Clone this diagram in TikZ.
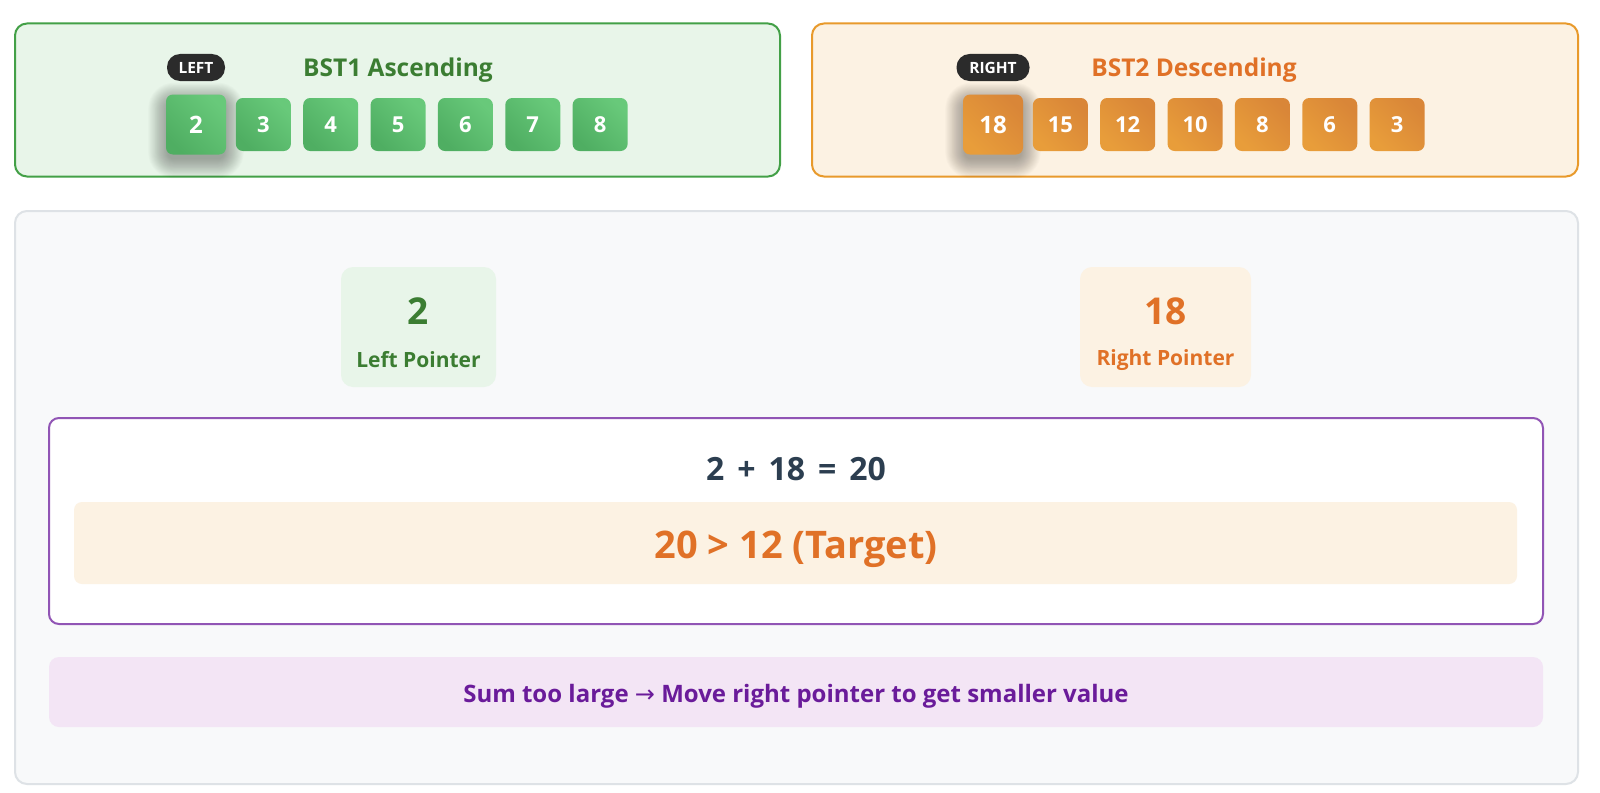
\documentclass[tikz,border=0pt]{standalone}
\usepackage{fontspec}
\setmainfont{Open Sans}
\newfontfamily\symfont{DejaVu Sans}
\definecolor{gfill}{HTML}{E8F5E9}
\definecolor{gborder}{HTML}{43A047}
\definecolor{gtext}{HTML}{3B7D32}
\definecolor{gcellA}{HTML}{4FAE62}
\definecolor{gcellB}{HTML}{68C97A}
\definecolor{ofill}{HTML}{FCF2E3}
\definecolor{oborder}{HTML}{E89A2C}
\definecolor{otext}{HTML}{E07127}
\definecolor{ocellA}{HTML}{E89D3A}
\definecolor{ocellB}{HTML}{D98638}
\definecolor{panelfill}{HTML}{F8F9FA}
\definecolor{panelborder}{HTML}{DEE2E6}
\definecolor{pborder}{HTML}{9155B5}
\definecolor{pfill}{HTML}{F3E5F5}
\definecolor{ptext}{HTML}{6A1B9A}
\definecolor{dark}{HTML}{2C3E50}
\definecolor{badge}{HTML}{2B2B2B}
\tikzset{
  box/.style={rectangle, rounded corners=12pt, line width=2pt, inner sep=0pt},
  gcell/.style={rectangle, rounded corners=7pt, minimum width=55pt, minimum height=53pt, inner sep=0pt,
    bottom color=gcellA, top color=gcellB, shading angle=-45, text=white, font=\bfseries\fontsize{22}{24}\selectfont},
  ocell/.style={rectangle, rounded corners=7pt, minimum width=55pt, minimum height=53pt, inner sep=0pt,
    bottom color=ocellA, top color=ocellB, shading angle=-45, text=white, font=\bfseries\fontsize{22}{24}\selectfont},
  active/.style={minimum width=60pt, minimum height=60pt, font=\bfseries\fontsize{24}{26}\selectfont},
  badgebox/.style={rectangle, rounded corners=13pt, fill=badge, text=white, minimum height=27pt, inner sep=0pt,
    font=\bfseries\fontsize{15.5}{17}\selectfont},
  title/.style={font=\bfseries\fontsize{24.5}{28}\selectfont, inner sep=0pt},
}
\newcommand{\softshadow}[2]{% center x, center y
  \foreach \k in {1,...,22} {
    \fill[black, opacity=0.014, rounded corners={6pt+\k*0.9pt}]
      ({#1-28-\k*0.9},{#2-28+6-\k*0.9}) rectangle ({#1+28+\k*0.9},{#2+28+6+\k*0.9});
  }
}
\newcommand{\wsp}{\hspace{13pt}}
\begin{document}
\begin{tikzpicture}[x=1pt, y=-1pt]
\useasboundingbox[fill=white] (0,0) rectangle (1600,792);
% top boxes
\node[box, draw=gborder, fill=gfill, minimum width=765pt, minimum height=153pt] (bst1) at (397.5,100) {};
\node[box, draw=oborder, fill=ofill, minimum width=766pt, minimum height=153pt] (bst2) at (1195,100) {};
% badges and titles
\node[badgebox, minimum width=58pt] (leftbadge) at (196,67.5) {LEFT};
\node[title, text=gtext] (t1) at (398,70) {BST1 Ascending};
\node[badgebox, minimum width=73pt] (rightbadge) at (993,67.5) {RIGHT};
\node[title, text=otext] (t2) at (1194,70) {BST2 Descending};
% green cells
\softshadow{196}{124.5}
\node[gcell, active] (g0) at (196,124.5) {2};
\foreach \v [count=\i] in {3,4,5,6,7,8} {
  \node[gcell] (g\i) at (196+67.35*\i,124.5) {\v};
}
% orange cells
\softshadow{993}{124.5}
\node[ocell, active] (o0) at (993,124.5) {18};
\foreach \v [count=\i] in {15,12,10,8,6,3} {
  \node[ocell] (o\i) at (993+67.35*\i,124.5) {\v};
}
% panel
\node[box, draw=panelborder, fill=panelfill, minimum width=1563pt, minimum height=573pt] (panel) at (796.5,497.5) {};
% pointer cards
\node[rectangle, rounded corners=12pt, fill=gfill, minimum width=155pt, minimum height=120pt] (lcard) at (418.5,327) {};
\node[text=gtext, font=\bfseries\fontsize{37}{40}\selectfont, inner sep=0pt] (lval) at (418.5,311) {2};
\node[text=gtext, font=\bfseries\fontsize{21}{24}\selectfont, inner sep=0pt] (llab) at (418.5,360) {Left Pointer};
\node[rectangle, rounded corners=12pt, fill=ofill, minimum width=171pt, minimum height=120pt] (rcard) at (1165.5,327) {};
\node[text=otext, font=\bfseries\fontsize{37}{40}\selectfont, inner sep=0pt] (rval) at (1165.5,311) {18};
\node[text=otext, font=\bfseries\fontsize{21}{24}\selectfont, inner sep=0pt] (rlab) at (1165.5,360) {Right Pointer};
% sum box
\node[rectangle, rounded corners=10pt, line width=2pt, draw=pborder, fill=white, minimum width=1494pt, minimum height=206pt] (sumbox) at (796,521) {};
\node[text=dark, font=\bfseries\fontsize{32}{35}\selectfont, inner sep=0pt] (sum) at (796,469) {2\wsp+\wsp18\wsp=\wsp20};
\node[rectangle, rounded corners=8pt, fill=ofill, minimum width=1443pt, minimum height=82pt] (cmpbar) at (795.5,543) {};
\node[text=otext, font=\bfseries\fontsize{38}{42}\selectfont, inner sep=0pt] (cmp) at (796,549) {20 > 12 (Target)};
% bottom message
\node[rectangle, rounded corners=10pt, fill=pfill, minimum width=1494pt, minimum height=70pt] (msgbar) at (796,692) {};
\node[text=ptext, font=\bfseries\fontsize{24}{26}\selectfont, inner sep=0pt] (msg) at (796,696) {Sum too large {\symfont\mdseries →} Move right pointer to get smaller value};
\end{tikzpicture}
\end{document}
